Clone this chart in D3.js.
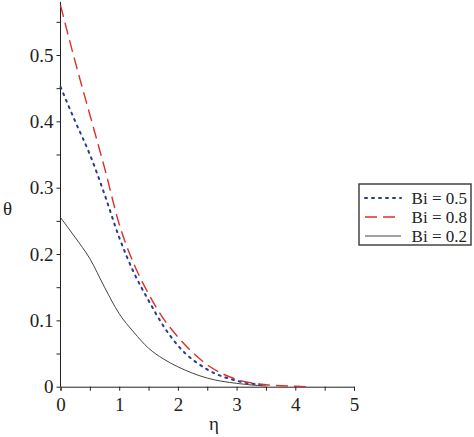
<!DOCTYPE html>
<html><head><meta charset="utf-8">
<script src="https://cdn.jsdelivr.net/npm/d3@7"></script>
<style>body{margin:0;background:#fff}</style>
</head><body>
<script>
var eta = [0, 0.25, 0.5, 0.75, 1, 1.25, 1.5, 1.75, 2, 2.5, 3, 3.5, 4, 4.2];
var bi05 = [0.452, 0.40, 0.35, 0.29, 0.225, 0.172, 0.13, 0.092, 0.062, 0.026, 0.009, 0.002, 0.0005, 0];
var bi08 = [0.575, 0.49, 0.41, 0.33, 0.245, 0.185, 0.14, 0.103, 0.075, 0.033, 0.011, 0.003, 0.0006, 0];
var bi02 = [0.255, 0.225, 0.193, 0.15, 0.11, 0.082, 0.058, 0.042, 0.03, 0.013, 0.005, 0.001, 0, 0];
var labels = ["Bi = 0.5", "Bi = 0.8", "Bi = 0.2"];

var series = [
  {name: labels[0], vals: bi05, color: "#2a3a8c", dash: "2,5", cap: "round", w: 2},
  {name: labels[1], vals: bi08, color: "#d8322b", dash: "12,6", cap: "butt", w: 1.4},
  {name: labels[2], vals: bi02, color: "#444", dash: null, cap: "butt", w: 1}
];

var svg = d3.select("body").append("svg").attr("width", 474).attr("height", 437);
var x = d3.scaleLinear().domain([0, 5]).range([60.5, 354]);
var y = d3.scaleLinear().domain([0, 0.5]).range([386.7, 55]);
var font = "'Liberation Serif', serif";

svg.append("g").attr("transform", "translate(0,386.7)")
  .call(d3.axisBottom(x).tickValues(d3.range(0, 5.01, 0.5)).tickSize(4).tickFormat(function(d){ return d % 1 === 0 ? d : ""; }))
  .call(function(g){ g.select(".domain").attr("stroke", "#222"); g.selectAll("line").attr("stroke", "#222"); g.selectAll("text").attr("font-family", font).attr("font-size", 19).attr("fill", "#222").attr("dy", "0.9em"); });

svg.append("g").attr("transform", "translate(60.5,0)")
  .call(d3.axisLeft(y).tickValues(d3.range(0, 0.571, 0.05)).tickSize(4).tickFormat(function(d, i){ return i % 2 === 0 ? (i === 0 ? "0" : d3.format(".1f")(d)) : ""; }))
  .call(function(g){ g.select(".domain").attr("d", "M0," + y(0) + "V" + y(0.58)).attr("stroke", "#222"); g.selectAll("line").attr("stroke", "#222"); g.selectAll("text").attr("font-family", font).attr("font-size", 19).attr("fill", "#222").attr("x", -7); });

svg.append("text").attr("x", 209).attr("y", 430).attr("font-family", font).attr("font-size", 19).attr("fill", "#222").text("η");
svg.append("text").attr("x", 3).attr("y", 215).attr("font-family", font).attr("font-size", 19).attr("fill", "#222").text("θ");

var line = d3.line().curve(d3.curveMonotoneX).x(function(d, i){ return x(eta[i]); }).y(function(d){ return y(d); });
series.forEach(function(s){
  var n = s.name === labels[2] ? 12 : (s.name === labels[0] ? 12 : 14);
  svg.append("path").datum(s.vals.slice(0, n)).attr("d", line)
    .attr("fill", "none").attr("stroke", s.color).attr("stroke-width", s.w)
    .attr("stroke-dasharray", s.dash).attr("stroke-linecap", s.cap);
});

var lg = svg.append("g").attr("transform", "translate(359,184)");
lg.append("rect").attr("width", 112).attr("height", 61).attr("fill", "#fff").attr("stroke", "#444").attr("stroke-width", 1.5);
series.forEach(function(s, i){
  var yy = 14 + i * 19;
  lg.append("line").attr("x1", 6).attr("x2", 42).attr("y1", yy).attr("y2", yy)
    .attr("stroke", s.color).attr("stroke-width", s.w).attr("stroke-dasharray", s.dash).attr("stroke-linecap", s.cap);
  lg.append("text").attr("x", 108).attr("y", yy + 6).attr("text-anchor", "end")
    .attr("font-family", font).attr("font-size", 17).attr("fill", "#222").text(s.name);
});
</script>
</body></html>
